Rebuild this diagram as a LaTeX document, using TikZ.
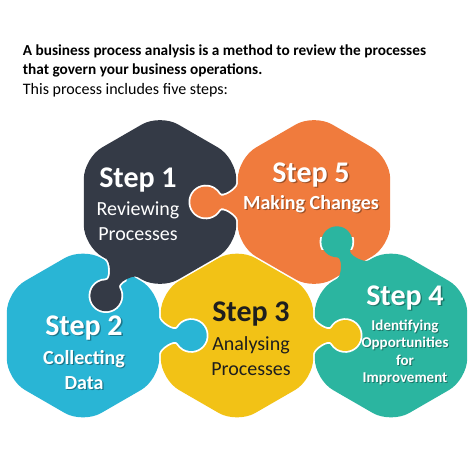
\documentclass[tikz,border=0pt]{standalone}
\usepackage{fontspec}
\setmainfont{Carlito}
\definecolor{pdark}{RGB}{52,58,70}
\definecolor{porange}{RGB}{240,123,61}
\definecolor{pblue}{RGB}{41,181,213}
\definecolor{pyellow}{RGB}{242,194,22}
\definecolor{pteal}{RGB}{43,181,160}
\definecolor{ptext}{RGB}{30,30,30}
\newcommand{\hexat}[3]{\fill[#3, rounded corners=21pt, shift={(#1,#2)}] (90:88) -- (30:88) -- (-30:88) -- (-90:88) -- (-150:88) -- (150:88) -- cycle;}
% tab: #1,#2 = edge midpoint; #3,#4 = outward unit normal (canvas); #5,#6 = perpendicular (canvas); #7 = colour
\newcommand{\puzzletab}[7]{%
\begin{scope}[shift={(#1,#2)}, x={(#3pt,#4pt)}, y={(#5pt,#6pt)}]
 \begin{scope}
  \clip (0,-40) rectangle (60,40);
  \draw[white, line width=3.6pt] (0,18) .. controls (0,13) and (15.6,2.55) .. (18.58,7.75)
     arc[start angle=150, end angle=-150, radius=15.5]
     .. controls (15.6,-2.55) and (0,-13) .. (0,-18);
 \end{scope}
 \fill[#7] (-5,18) -- (0,18) .. controls (0,13) and (15.6,2.55) .. (18.58,7.75)
     arc[start angle=150, end angle=-150, radius=15.5]
     .. controls (15.6,-2.55) and (0,-13) .. (0,-18) -- (-5,-18) -- cycle;
\end{scope}}
\tikzset{
 lbl/.style={anchor=base, inner sep=0pt, text=white},
 shd/.style={anchor=base, inner sep=0pt, text=black, opacity=0.35},
 stepfont/.style={font=\fontsize{30}{30}\selectfont\bfseries},
 subfont/.style={font=\fontsize{20}{20}\selectfont},
 subbold/.style={font=\fontsize{20}{20}\selectfont\bfseries},
 smallbold/.style={font=\fontsize{15}{15}\selectfont\bfseries},
 titlefont/.style={font=\fontsize{15.3}{15.3}\selectfont\bfseries},
 introfont/.style={font=\fontsize{16}{16}\selectfont},
}
\begin{document}
\begin{tikzpicture}[x=1pt,y=-1pt]
\fill[white] (0,0) rectangle (474,474);
\useasboundingbox (0,0) rectangle (474,474);

% title
\node[anchor=base west, inner sep=0pt, titlefont] (t1) at (22.7,55) {A business process analysis is a method to review the processes};
\node[anchor=base west, inner sep=0pt, titlefont] (t2) at (22.7,74.5) {that govern your business operations.};
\node[anchor=base west, inner sep=0pt, introfont] (t3) at (22.7,94.5) {This process includes five steps:};

% hexagons
\hexat{160}{202}{pdark}
\hexat{314}{202}{porange}
\hexat{83}{335.5}{pblue}
\hexat{237}{335.5}{pyellow}
\hexat{391}{335.5}{pteal}

% puzzle tabs
\puzzletab{121.9}{268.0}{-0.5}{-0.866}{0.866}{-0.5}{pdark}
\puzzletab{237.8}{202}{-1}{0}{0}{-1}{porange}
\puzzletab{159.2}{335.5}{1}{0}{0}{1}{pblue}
\puzzletab{313.2}{335.5}{1}{0}{0}{1}{pyellow}
\puzzletab{352.9}{269.5}{-0.5}{0.866}{-0.866}{-0.5}{pteal}

% step 1
\node[lbl, stepfont] (s1a) at (138,187) {Step 1};
\node[lbl, subfont] (s1b) at (138,215) {Reviewing};
\node[lbl, subfont] (s1c) at (138,240) {Processes};

% step 5
\node[shd, stepfont] (s5as) at (312.3,183.2) {Step 5};
\node[lbl, stepfont] (s5a) at (311,182) {Step 5};
\node[shd, subbold] (s5bs) at (312.2,210.2) {Making Changes};
\node[lbl, subbold] (s5b) at (311,209) {Making Changes};

% step 2
\node[shd, stepfont] (s2as) at (85.3,336.2) {Step 2};
\node[lbl, stepfont] (s2a) at (84,335) {Step 2};
\node[shd, subbold] (s2bs) at (85.2,365.5) {Collecting};
\node[lbl, subbold] (s2b) at (84,364.3) {Collecting};
\node[shd, subbold] (s2cs) at (85.2,390.2) {Data};
\node[lbl, subbold] (s2c) at (84,389) {Data};

% step 3
\node[lbl, stepfont, text=ptext] (s3a) at (251,321) {Step 3};
\node[lbl, subfont, text=ptext] (s3b) at (251,350.7) {Analysing};
\node[lbl, subfont, text=ptext] (s3c) at (251,375) {Processes};

% step 4
\node[shd, stepfont] (s4as) at (406.3,306.9) {Step 4};
\node[lbl, stepfont] (s4a) at (405,305.7) {Step 4};
\node[shd, smallbold] (s4bs) at (406,331.7) {Identifying};
\node[lbl, smallbold] (s4b) at (405,330.7) {Identifying};
\node[shd, smallbold] (s4cs) at (406,348.7) {Opportunities};
\node[lbl, smallbold] (s4c) at (405,347.7) {Opportunities};
\node[shd, smallbold] (s4ds) at (406,366) {for};
\node[lbl, smallbold] (s4d) at (405,365) {for};
\node[shd, smallbold] (s4es) at (406,383.7) {Improvement};
\node[lbl, smallbold] (s4e) at (405,382.7) {Improvement};
\end{tikzpicture}
\end{document}
